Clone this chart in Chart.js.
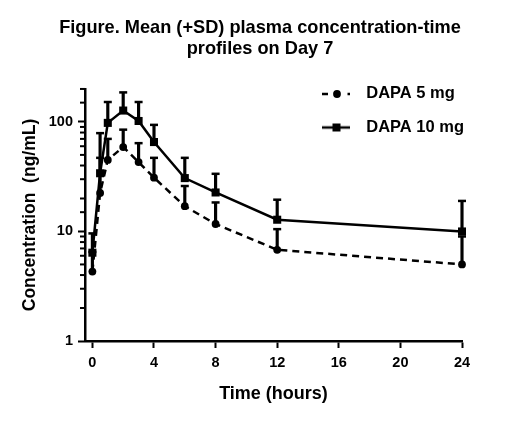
<!DOCTYPE html>
<html>
<head>
<meta charset="utf-8">
<script src="https://cdn.jsdelivr.net/npm/chart.js@4.4.1/dist/chart.umd.min.js"></script>
<style>
  html, body { margin: 0; padding: 0; background: #fff; }
  #wrap { width: 520px; height: 422px; }
</style>
</head>
<body>
<div id="wrap"><canvas id="pk-chart"></canvas></div>
<script>
// values (ng/mL), mean and SD per sampling time
const timePoints = [0, 0.5, 1, 2, 3, 4, 6, 8, 12, 24];
const dapa5Mean = [4.3, 22.5, 45, 59, 43, 31, 17, 11.7, 6.8, 5.0];
const dapa5Sd = [2.2, 24.5, 25, 26, 21, 16, 9, 6.7, 3.7, 4];
const dapa10Mean = [6.4, 34, 98, 127, 102, 65.5, 30.7, 22.7, 12.8, 10.0];
const dapa10Sd = [3.2, 45, 54, 59, 50, 28.5, 16.3, 10.9, 6.7, 9];
const seriesNames = ['DAPA 5 mg', 'DAPA 10 mg'];
const xTicks = [0, 4, 8, 12, 16, 20, 24];
const yTicks = [1, 10, 100];

Chart.defaults.font.family = '"Liberation Sans", Arial, sans-serif';
Chart.defaults.font.weight = 'bold';
Chart.defaults.color = '#000';

function points(mean) {
    return timePoints.map((t, i) => ({ x: t, y: mean[i] }));
}

function sdBars(mean, sd) {
    return timePoints.map((t, i) => ({ x: t, y: [mean[i], mean[i] + sd[i]] }));
}

function sdCaps(mean, sd) {
    return timePoints.map((t, i) => ({ x: t, y: mean[i] + sd[i] }));
}

// little line+marker pictures for the legend
function legendSample(dashed) {
    const c = document.createElement('canvas');
    c.width = 36;
    c.height = 12;
    const g = c.getContext('2d');
    g.fillStyle = '#000';
    if (dashed) {
        g.fillRect(0, 4.75, 6, 2.5);
        g.fillRect(25.5, 4.75, 2.5, 2.5);
        g.beginPath();
        g.arc(15, 6, 3.9, 0, Math.PI * 2);
        g.fill();
    } else {
        g.fillRect(0, 4.75, 28, 2.5);
        g.fillRect(10.5, 2, 8, 8);
    }
    return c;
}

const minorTicks = {
    id: 'minorTicks',
    afterDraw(chart) {
        const y = chart.scales.y;
        const ctx = chart.ctx;
        const x0 = chart.chartArea.left;
        ctx.save();
        ctx.strokeStyle = '#000';
        ctx.lineWidth = 2;
        y.ticks.forEach(t => {
            if (yTicks.includes(t.value)) return;
            const py = y.getPixelForValue(t.value);
            ctx.beginPath();
            ctx.moveTo(x0 - 5, py);
            ctx.lineTo(x0, py);
            ctx.stroke();
        });
        ctx.restore();
    }
};

// put the legend inside the plot, top right
const legendSpot = {
    id: 'legendSpot',
    afterLayout(chart) {
        const lg = chart.legend;
        const area = chart.chartArea;
        lg.left = area.right - 157;
        lg.top = area.top - 20.25;
        lg.width = 200;
        lg.height = 110;
        lg.right = lg.left + lg.width;
        lg.bottom = lg.top + lg.height;
    }
};

const ctx = document.getElementById('pk-chart').getContext('2d');
new Chart(ctx, {
    type: 'line',
    data: {
        datasets: [{
            label: seriesNames[0],
            data: points(dapa5Mean),
            borderColor: '#000',
            borderWidth: 2.5,
            borderDash: [7, 5],
            pointStyle: 'circle',
            pointRadius: 3.9,
            pointBackgroundColor: '#000',
            pointBorderWidth: 0,
            clip: false
        }, {
            label: seriesNames[1],
            data: points(dapa10Mean),
            borderColor: '#000',
            borderWidth: 2.5,
            pointStyle: 'rect',
            pointRadius: 5.7,
            pointBackgroundColor: '#000',
            pointBorderWidth: 0,
            clip: false
        }, {
            type: 'bar',
            label: 'sd5',
            data: sdBars(dapa5Mean, dapa5Sd),
            grouped: false,
            barThickness: 2.5,
            backgroundColor: '#000',
            borderWidth: 0,
            clip: false
        }, {
            type: 'bar',
            label: 'sd10',
            data: sdBars(dapa10Mean, dapa10Sd),
            grouped: false,
            barThickness: 2.5,
            backgroundColor: '#000',
            borderWidth: 0,
            clip: false
        }, {
            label: 'cap5',
            data: sdCaps(dapa5Mean, dapa5Sd),
            showLine: false,
            pointStyle: 'line',
            pointRadius: 4,
            pointBorderWidth: 2.5,
            borderColor: '#000',
            clip: false
        }, {
            label: 'cap10',
            data: sdCaps(dapa10Mean, dapa10Sd),
            showLine: false,
            pointStyle: 'line',
            pointRadius: 4,
            pointBorderWidth: 2.5,
            borderColor: '#000',
            clip: false
        }]
    },
    options: {
        responsive: true,
        maintainAspectRatio: false,
        animation: false,
        layout: { padding: 0 },
        plugins: {
            tooltip: { enabled: false },
            title: {
                display: true,
                text: ['Figure. Mean (+SD) plasma concentration-time', 'profiles on Day 7'],
                color: '#000',
                font: { size: 18.2, weight: 'bold', lineHeight: 1.18 },
                padding: { top: 17, bottom: 29 }
            },
            legend: {
                position: 'chartArea',
                align: 'start',
                labels: {
                    usePointStyle: true,
                    pointStyleWidth: 36,
                    padding: 17,
                    color: '#000',
                    font: { size: 16.5, weight: 'bold' },
                    generateLabels(chart) {
                        return seriesNames.map((name, i) => ({
                            text: name,
                            pointStyle: legendSample(i === 0),
                            fillStyle: '#000',
                            strokeStyle: '#000',
                            lineWidth: 0,
                            hidden: false,
                            datasetIndex: i,
                            fontColor: '#000'
                        }));
                    }
                }
            }
        },
        scales: {
            x: {
                type: 'linear',
                min: -0.48,
                max: 24,
                offset: false,
                afterBuildTicks(s) {
                    s.ticks = xTicks.map(v => ({ value: v }));
                },
                afterFit(s) {
                    s.height = 81;
                },
                grid: {
                    offset: false,
                    drawOnChartArea: false,
                    tickLength: 7,
                    tickWidth: 2,
                    tickColor: '#000'
                },
                border: { color: '#000', width: 2.5 },
                ticks: {
                    autoSkip: false,
                    maxRotation: 0,
                    padding: 6,
                    font: { size: 14.5, weight: 'bold' },
                    callback: v => String(v)
                },
                title: {
                    display: true,
                    text: 'Time (hours)',
                    font: { size: 18, weight: 'bold' },
                    padding: { top: 0, bottom: 17.2 }
                }
            },
            y: {
                type: 'logarithmic',
                position: 'left',
                min: 1,
                max: 200,
                afterFit(s) {
                    s.width = 85;
                },
                grid: {
                    drawOnChartArea: false,
                    tickLength: 7,
                    tickWidth: 2,
                    tickColor: c => yTicks.includes(c.tick.value) ? '#000' : 'rgba(0,0,0,0)'
                },
                border: { color: '#000', width: 2.5 },
                ticks: {
                    autoSkip: false,
                    padding: 5,
                    font: { size: 14.5, weight: 'bold' },
                    callback: v => yTicks.includes(v) ? String(v) : ''
                },
                title: {
                    display: true,
                    text: 'Concentration  (ng/mL)',
                    font: { size: 17.5, weight: 'bold' },
                    padding: { top: 19.5, bottom: 0 }
                }
            },
            // empty right-hand strip so the plot ends where the figure's does
            yr: {
                type: 'linear',
                position: 'right',
                grid: { display: false },
                border: { display: false },
                ticks: { display: false },
                afterFit(s) {
                    s.width = 58;
                }
            }
        }
    },
    plugins: [minorTicks, legendSpot]
});
</script>
</body>
</html>
